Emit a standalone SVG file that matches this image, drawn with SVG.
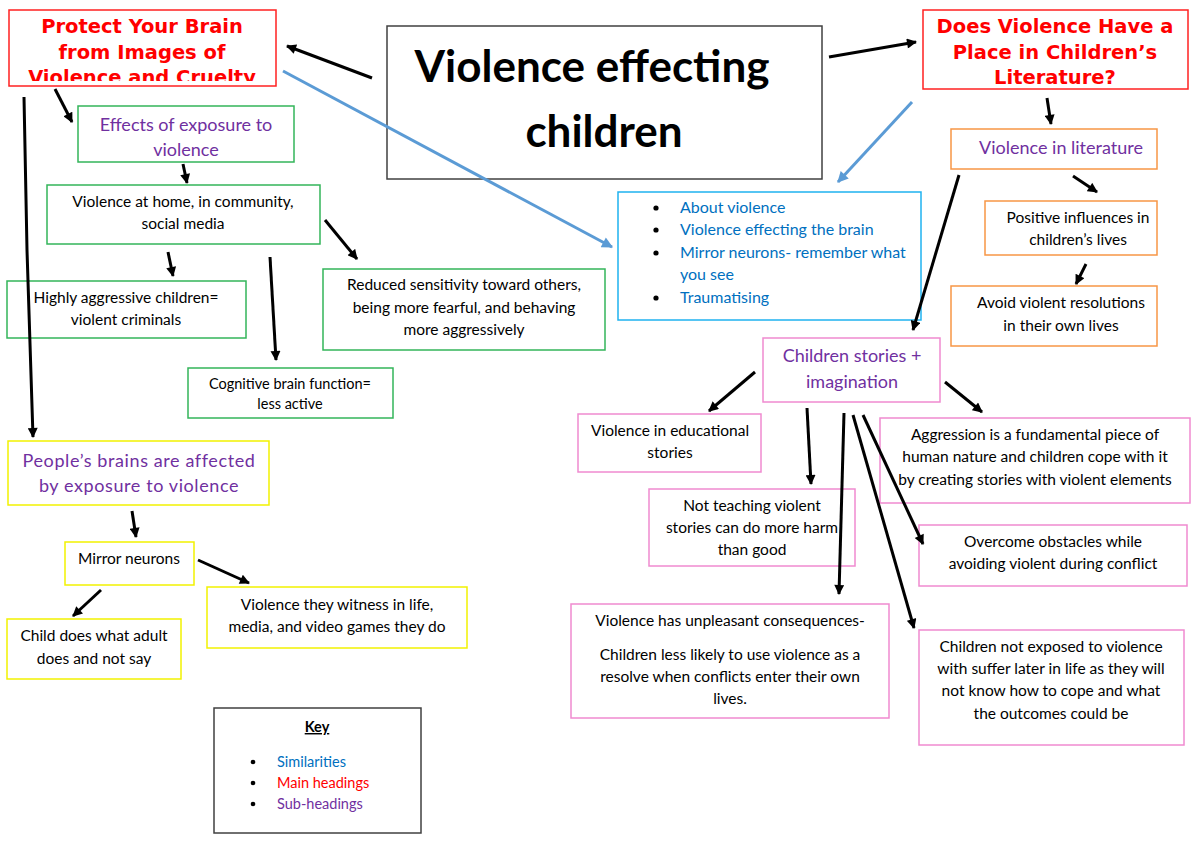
<svg xmlns="http://www.w3.org/2000/svg" width="1200" height="848" viewBox="0 0 1200 848">
<style>
  .box{fill:#ffffff;stroke-width:1.5}
  .red{stroke:#ff2020}
  .grey{stroke:#404040}
  .green{stroke:#33b55a}
  .cyan{stroke:#1fb2f0}
  .orange{stroke:#f79646}
  .pink{stroke:#f08ad0}
  .yellow{stroke:#f2f200}
  .head{font-family:"DejaVu Sans",Verdana,sans-serif;font-weight:bold;font-size:19.5px;fill:#ff0000;text-anchor:middle}
  .title{font-family:Lato,"Open Sans",sans-serif;font-weight:bold;font-size:44px;fill:#000;text-anchor:middle}
  .sub{font-family:Lato,"Open Sans",sans-serif;font-size:18px;fill:#7030a0;text-anchor:middle}
  .t{font-family:Lato,"Open Sans",sans-serif;font-size:15.5px;fill:#000;text-anchor:middle}
  .s{font-family:Lato,"Open Sans",sans-serif;font-size:14.5px;fill:#000;text-anchor:middle}
  .sim{font-family:Lato,"Open Sans",sans-serif;font-size:16px;fill:#0070c0}
  .k{font-family:Lato,"Open Sans",sans-serif;font-size:14.5px}
  .arr{stroke:#000;stroke-width:3;fill:none;marker-end:url(#ah)}
  .barr{stroke:#5b9bd5;stroke-width:3;fill:none;marker-end:url(#bh)}
</style>
<defs>
  <marker id="ah" viewBox="0 0 10 10" refX="9" refY="5" markerWidth="11" markerHeight="10" markerUnits="userSpaceOnUse" orient="auto">
    <path d="M0,0 L10,5 L0,10 Z" fill="#000"/>
  </marker>
  <marker id="bh" viewBox="0 0 10 10" refX="9" refY="5" markerWidth="12" markerHeight="11" markerUnits="userSpaceOnUse" orient="auto">
    <path d="M0,0 L10,5 L0,10 Z" fill="#5b9bd5"/>
  </marker>
  <clipPath id="c1"><rect x="9" y="10" width="267" height="71"/></clipPath>
</defs>
<rect width="1200" height="848" fill="#ffffff"/>

<g id="protect">
  <rect class="box red" x="9" y="10" width="267" height="76"/>
  <g clip-path="url(#c1)">
    <text class="head" x="142" y="33">Protect Your Brain</text>
    <text class="head" x="142" y="59">from Images of</text>
    <text class="head" x="142" y="84">Violence and Cruelty</text>
  </g>
</g>

<g id="central">
  <rect class="box grey" x="387" y="26" width="435" height="153"/>
  <text class="title" x="592" y="82">Violence effecting</text>
  <text class="title" x="604" y="147">children</text>
</g>

<g id="does-violence">
  <rect class="box red" x="923" y="10" width="265" height="79"/>
  <text class="head" x="1055" y="33">Does Violence Have a</text>
  <text class="head" x="1055" y="59">Place in Children’s</text>
  <text class="head" x="1055" y="84">Literature?</text>
</g>

<g id="effects">
  <rect class="box green" x="78" y="106" width="216" height="56"/>
  <text class="sub" x="186" y="131">Effects of exposure to</text>
  <text class="sub" x="186" y="156">violence</text>
</g>

<g id="home">
  <rect class="box green" x="47" y="185" width="273" height="59"/>
  <text class="t" x="183" y="207">Violence at home, in community,</text>
  <text class="t" x="183" y="229">social media</text>
</g>

<g id="aggressive">
  <rect class="box green" x="7" y="281" width="239" height="57"/>
  <text class="t" x="126" y="303">Highly aggressive children=</text>
  <text class="t" x="126" y="325">violent criminals</text>
</g>

<g id="reduced">
  <rect class="box green" x="323" y="269" width="282" height="81"/>
  <text class="t" x="464" y="290">Reduced sensitivity toward others,</text>
  <text class="t" x="464" y="313">being more fearful, and behaving</text>
  <text class="t" x="464" y="335">more aggressively</text>
</g>

<g id="cognitive">
  <rect class="box green" x="188" y="368" width="205" height="50"/>
  <text class="s" x="290" y="389">Cognitive brain function=</text>
  <text class="s" x="290" y="409">less active</text>
</g>

<g id="similarities">
  <rect class="box cyan" x="618" y="192" width="303" height="128"/>
  <circle cx="656" cy="208" r="2.6"/>
  <circle cx="656" cy="230" r="2.6"/>
  <circle cx="656" cy="253" r="2.6"/>
  <circle cx="656" cy="298" r="2.6"/>
  <text class="sim" x="680" y="213">About violence</text>
  <text class="sim" x="680" y="235">Violence effecting the brain</text>
  <text class="sim" x="680" y="258">Mirror neurons- remember what</text>
  <text class="sim" x="680" y="280">you see</text>
  <text class="sim" x="680" y="303">Traumatising</text>
</g>

<g id="literature">
  <rect class="box orange" x="951" y="129" width="206" height="40"/>
  <text class="sub" x="1061" y="154">Violence in literature</text>
</g>

<g id="positive">
  <rect class="box orange" x="985" y="201" width="172" height="54"/>
  <text class="t" x="1078" y="223">Positive influences in</text>
  <text class="t" x="1078" y="245">children’s lives</text>
</g>

<g id="avoid">
  <rect class="box orange" x="951" y="286" width="206" height="60"/>
  <text class="t" x="1061" y="308">Avoid violent resolutions</text>
  <text class="t" x="1061" y="331">in their own lives</text>
</g>

<g id="stories">
  <rect class="box pink" x="763" y="338" width="177" height="64"/>
  <text class="sub" x="852" y="362">Children stories +</text>
  <text class="sub" x="852" y="388">imagination</text>
</g>

<g id="educational">
  <rect class="box pink" x="578" y="414" width="183" height="58"/>
  <text class="t" x="670" y="436">Violence in educational</text>
  <text class="t" x="670" y="458">stories</text>
</g>

<g id="aggression">
  <rect class="box pink" x="880" y="418" width="310" height="85"/>
  <text class="t" x="1035" y="440">Aggression is a fundamental piece of</text>
  <text class="t" x="1035" y="462">human nature and children cope with it</text>
  <text class="t" x="1035" y="485">by creating stories with violent elements</text>
</g>

<g id="not-teaching">
  <rect class="box pink" x="649" y="489" width="206" height="77"/>
  <text class="t" x="752" y="511">Not teaching violent</text>
  <text class="t" x="752" y="533">stories can do more harm</text>
  <text class="t" x="752" y="555">than good</text>
</g>

<g id="overcome">
  <rect class="box pink" x="919" y="525" width="268" height="61"/>
  <text class="t" x="1053" y="547">Overcome obstacles while</text>
  <text class="t" x="1053" y="569">avoiding violent during conflict</text>
</g>

<g id="unpleasant">
  <rect class="box pink" x="571" y="604" width="318" height="114"/>
  <text class="t" x="730" y="626">Violence has unpleasant consequences-</text>
  <text class="t" x="730" y="660">Children less likely to use violence as a</text>
  <text class="t" x="730" y="682">resolve when conflicts enter their own</text>
  <text class="t" x="730" y="704">lives.</text>
</g>

<g id="not-exposed">
  <rect class="box pink" x="919" y="630" width="265" height="115"/>
  <text class="t" x="1051" y="652">Children not exposed to violence</text>
  <text class="t" x="1051" y="674">with suffer later in life as they will</text>
  <text class="t" x="1051" y="696">not know how to cope and what</text>
  <text class="t" x="1051" y="719">the outcomes could be</text>
</g>

<g id="brains">
  <rect class="box yellow" x="8" y="441" width="261" height="64"/>
  <text class="sub" x="139" y="467" font-size="17" letter-spacing="0.6">People’s brains are affected</text>
  <text class="sub" x="139" y="492" font-size="17" letter-spacing="0.6">by exposure to violence</text>
</g>

<g id="mirror">
  <rect class="box yellow" x="65" y="542" width="129" height="43"/>
  <text class="t" x="129" y="564">Mirror neurons</text>
</g>

<g id="witness">
  <rect class="box yellow" x="207" y="587" width="260" height="61"/>
  <text class="t" x="337" y="610">Violence they witness in life,</text>
  <text class="t" x="337" y="632">media, and video games they do</text>
</g>

<g id="child-does">
  <rect class="box yellow" x="7" y="619" width="174" height="60"/>
  <text class="t" x="94" y="641">Child does what adult</text>
  <text class="t" x="94" y="664">does and not say</text>
</g>

<g id="key">
  <rect class="box grey" x="214" y="708" width="207" height="125"/>
  <text class="k" x="317" y="732" font-weight="bold" text-anchor="middle" text-decoration="underline">Key </text>
  <circle cx="253" cy="762" r="2.3"/>
  <circle cx="253" cy="783" r="2.3"/>
  <circle cx="253" cy="804" r="2.3"/>
  <text class="k" x="277" y="767" fill="#0070c0">Similarities</text>
  <text class="k" x="277" y="788" fill="#ff0000">Main headings</text>
  <text class="k" x="277" y="809" fill="#7030a0">Sub-headings</text>
</g>

<g id="connectors">
  <line class="arr" x1="372" y1="78" x2="287" y2="46"/>
  <line class="barr" x1="283" y1="71" x2="612" y2="247"/>
  <line class="arr" x1="829" y1="57" x2="916" y2="42"/>
  <line class="barr" x1="912" y1="102" x2="838" y2="182"/>
  <line class="arr" x1="55" y1="89" x2="72" y2="122"/>
  <polyline class="arr" points="24,97 27,250 33,437"/>
  <line class="arr" x1="183" y1="164" x2="187" y2="183"/>
  <line class="arr" x1="168" y1="252" x2="173" y2="276"/>
  <line class="arr" x1="270" y1="257" x2="276" y2="360"/>
  <line class="arr" x1="325" y1="220" x2="357" y2="259"/>
  <line class="arr" x1="1047" y1="98" x2="1051" y2="124"/>
  <line class="arr" x1="959" y1="175" x2="913" y2="330"/>
  <line class="arr" x1="1073" y1="176" x2="1097" y2="192"/>
  <line class="arr" x1="1086" y1="264" x2="1076" y2="284"/>
  <line class="arr" x1="755" y1="372" x2="709" y2="411"/>
  <line class="arr" x1="807" y1="408" x2="811" y2="484"/>
  <line class="arr" x1="844" y1="413" x2="839" y2="594"/>
  <line class="arr" x1="853" y1="415" x2="914" y2="628"/>
  <line class="arr" x1="863" y1="415" x2="923" y2="544"/>
  <line class="arr" x1="945" y1="382" x2="982" y2="412"/>
  <line class="arr" x1="132" y1="511" x2="136" y2="537"/>
  <line class="arr" x1="198" y1="560" x2="249" y2="583"/>
  <line class="arr" x1="101" y1="590" x2="73" y2="616"/>
</g>
</svg>
